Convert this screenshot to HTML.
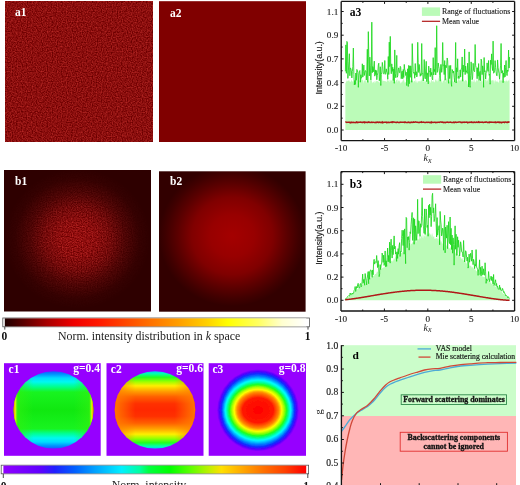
<!DOCTYPE html>
<html><head><meta charset="utf-8"><title>Figure</title>
<style>html,body{margin:0;padding:0;background:#fff;overflow:hidden;width:520px;height:485px}svg{display:block}</style>
</head><body>
<svg width="520" height="485" viewBox="0 0 520 485">
<defs>
<filter id="nA" x="0" y="0" width="100%" height="100%" color-interpolation-filters="sRGB">
  <feTurbulence type="fractalNoise" baseFrequency="0.8" numOctaves="1" seed="3" result="t"/>
  <feColorMatrix in="t" type="matrix" values="0.52 0 0 0 0.285  0.31 0 0 0 -0.097  0.28 0 0 0 -0.085  0 0 0 0 1"/>
  <feGaussianBlur stdDeviation="0.35"/>
</filter>
<filter id="nB" x="0" y="0" width="100%" height="100%" color-interpolation-filters="sRGB">
  <feTurbulence type="fractalNoise" baseFrequency="0.8" numOctaves="1" seed="11" result="t"/>
  <feColorMatrix in="t" type="matrix" values="0.6 0 0 0 0.28  0.32 0 0 0 -0.1  0.3 0 0 0 -0.09  0 0 0 0 1"/>
  <feGaussianBlur stdDeviation="0.3"/>
</filter>
<radialGradient id="gB1" cx="0.5" cy="0.485" r="0.5">
  <stop offset="0" stop-color="#fff" stop-opacity="1"/>
  <stop offset="0.25" stop-color="#fff" stop-opacity="0.92"/>
  <stop offset="0.45" stop-color="#fff" stop-opacity="0.68"/>
  <stop offset="0.65" stop-color="#fff" stop-opacity="0.32"/>
  <stop offset="0.85" stop-color="#fff" stop-opacity="0.07"/>
  <stop offset="1" stop-color="#fff" stop-opacity="0"/>
</radialGradient>
<mask id="mB1"><rect x="4" y="170" width="147" height="141.5" fill="url(#gB1)"/></mask>
<radialGradient id="gB2" cx="0.5" cy="0.46" r="0.5">
  <stop offset="0" stop-color="#a40000"/>
  <stop offset="0.3" stop-color="#980000"/>
  <stop offset="0.55" stop-color="#800000"/>
  <stop offset="0.75" stop-color="#5a0000"/>
  <stop offset="0.9" stop-color="#400000"/>
  <stop offset="1" stop-color="#320000"/>
</radialGradient>
<radialGradient id="gB1b" cx="0.5" cy="0.47" r="0.55">
  <stop offset="0" stop-color="#7a0a04"/>
  <stop offset="0.4" stop-color="#6a0604"/>
  <stop offset="0.7" stop-color="#420000"/>
  <stop offset="1" stop-color="#2c0000"/>
</radialGradient>
<linearGradient id="hot" x1="0" x2="1" y1="0" y2="0">
  <stop offset="0" stop-color="#200000"/>
  <stop offset="0.06" stop-color="#580000"/>
  <stop offset="0.14" stop-color="#a80000"/>
  <stop offset="0.23" stop-color="#f00000"/>
  <stop offset="0.31" stop-color="#ff1800"/>
  <stop offset="0.48" stop-color="#ff7000"/>
  <stop offset="0.58" stop-color="#ffa000"/>
  <stop offset="0.67" stop-color="#ffd000"/>
  <stop offset="0.74" stop-color="#ffff00"/>
  <stop offset="0.84" stop-color="#ffff60"/>
  <stop offset="0.92" stop-color="#ffffd0"/>
  <stop offset="1" stop-color="#ffffff"/>
</linearGradient>
<linearGradient id="jet" x1="0" x2="1" y1="0" y2="0">
  <stop offset="0" stop-color="#9000ff"/>
  <stop offset="0.12" stop-color="#6000ff"/>
  <stop offset="0.17" stop-color="#2020ff"/>
  <stop offset="0.236" stop-color="#0060ff"/>
  <stop offset="0.30" stop-color="#00a0ff"/>
  <stop offset="0.39" stop-color="#00f0ff"/>
  <stop offset="0.45" stop-color="#00ffa0"/>
  <stop offset="0.48" stop-color="#00ff40"/>
  <stop offset="0.55" stop-color="#00ff00"/>
  <stop offset="0.62" stop-color="#60ff00"/>
  <stop offset="0.68" stop-color="#c0f000"/>
  <stop offset="0.72" stop-color="#ffe000"/>
  <stop offset="0.80" stop-color="#ffa000"/>
  <stop offset="0.86" stop-color="#ff7000"/>
  <stop offset="0.93" stop-color="#ff4000"/>
  <stop offset="0.98" stop-color="#ff1000"/>
  <stop offset="1" stop-color="#ff0000"/>
</linearGradient>
<radialGradient id="gC3" cx="0.5" cy="0.5" r="0.5">
  <stop offset="0" stop-color="#ff0000"/>
  <stop offset="0.25" stop-color="#ff2000"/>
  <stop offset="0.36" stop-color="#ff7000"/>
  <stop offset="0.45" stop-color="#ffc000"/>
  <stop offset="0.52" stop-color="#f0ff00"/>
  <stop offset="0.6" stop-color="#40ff00"/>
  <stop offset="0.66" stop-color="#00ff80"/>
  <stop offset="0.72" stop-color="#00f0ff"/>
  <stop offset="0.8" stop-color="#0080ff"/>
  <stop offset="0.88" stop-color="#2000ff"/>
  <stop offset="0.95" stop-color="#7000ff"/>
  <stop offset="1" stop-color="#9600ff"/>
</radialGradient>
<radialGradient id="gC3c" cx="0.5" cy="0.5" r="0.5">
  <stop offset="0" stop-color="#ff0000" stop-opacity="1"/>
  <stop offset="0.5" stop-color="#ff1000" stop-opacity="0.75"/>
  <stop offset="1" stop-color="#ff3000" stop-opacity="0"/>
</radialGradient>
<linearGradient id="gC1" x1="0" x2="0" y1="0" y2="1">
  <stop offset="0" stop-color="#2050ff"/>
  <stop offset="0.04" stop-color="#0090ff"/>
  <stop offset="0.09" stop-color="#00dcff"/>
  <stop offset="0.14" stop-color="#00f8f0"/>
  <stop offset="0.2" stop-color="#00ff90"/>
  <stop offset="0.27" stop-color="#18f420"/>
  <stop offset="0.5" stop-color="#10e810"/>
  <stop offset="0.74" stop-color="#18f420"/>
  <stop offset="0.8" stop-color="#00ff90"/>
  <stop offset="0.86" stop-color="#00f8f0"/>
  <stop offset="0.91" stop-color="#00dcff"/>
  <stop offset="0.96" stop-color="#0090ff"/>
  <stop offset="1" stop-color="#2050ff"/>
</linearGradient>
<linearGradient id="gC1s" x1="0" x2="1" y1="0" y2="0">
  <stop offset="0" stop-color="#30f010" stop-opacity="0.9"/>
  <stop offset="0.12" stop-color="#30f010" stop-opacity="0.45"/>
  <stop offset="0.25" stop-color="#30f010" stop-opacity="0"/>
  <stop offset="0.75" stop-color="#30f010" stop-opacity="0"/>
  <stop offset="0.88" stop-color="#30f010" stop-opacity="0.45"/>
  <stop offset="1" stop-color="#30f010" stop-opacity="0.9"/>
</linearGradient>
<linearGradient id="gC1e" x1="0" x2="1" y1="0" y2="0">
  <stop offset="0" stop-color="#ff3000" stop-opacity="1"/>
  <stop offset="0.015" stop-color="#ffa000" stop-opacity="1"/>
  <stop offset="0.03" stop-color="#f0ff00" stop-opacity="0.8"/>
  <stop offset="0.06" stop-color="#80ff00" stop-opacity="0.0"/>
  <stop offset="0.94" stop-color="#80ff00" stop-opacity="0.0"/>
  <stop offset="0.97" stop-color="#f0ff00" stop-opacity="0.8"/>
  <stop offset="0.985" stop-color="#ffa000" stop-opacity="1"/>
  <stop offset="1" stop-color="#ff3000" stop-opacity="1"/>
</linearGradient>
<linearGradient id="gC1m" x1="0" x2="0" y1="0" y2="1">
  <stop offset="0.15" stop-color="#fff" stop-opacity="0"/>
  <stop offset="0.3" stop-color="#fff" stop-opacity="1"/>
  <stop offset="0.75" stop-color="#fff" stop-opacity="1"/>
  <stop offset="0.88" stop-color="#fff" stop-opacity="0"/>
</linearGradient>
<mask id="mC1"><rect x="13" y="371" width="81" height="78" fill="url(#gC1m)"/></mask>
<linearGradient id="gC2" x1="0" x2="0" y1="0" y2="1">
  <stop offset="0" stop-color="#00c8ff"/>
  <stop offset="0.035" stop-color="#00ffb0"/>
  <stop offset="0.08" stop-color="#20ff20"/>
  <stop offset="0.14" stop-color="#a0ff00"/>
  <stop offset="0.19" stop-color="#ffee00"/>
  <stop offset="0.26" stop-color="#ffa000"/>
  <stop offset="0.33" stop-color="#ff6000"/>
  <stop offset="0.42" stop-color="#ff3000"/>
  <stop offset="0.5" stop-color="#ff2800"/>
  <stop offset="0.58" stop-color="#ff3000"/>
  <stop offset="0.67" stop-color="#ff6000"/>
  <stop offset="0.74" stop-color="#ffa000"/>
  <stop offset="0.81" stop-color="#ffee00"/>
  <stop offset="0.86" stop-color="#a0ff00"/>
  <stop offset="0.92" stop-color="#20ff20"/>
  <stop offset="0.965" stop-color="#00ffb0"/>
  <stop offset="1" stop-color="#00c8ff"/>
</linearGradient>
<linearGradient id="gC2s" x1="0" x2="1" y1="0" y2="0">
  <stop offset="0" stop-color="#ff8000" stop-opacity="0.9"/>
  <stop offset="0.12" stop-color="#ff8000" stop-opacity="0.5"/>
  <stop offset="0.26" stop-color="#ff8000" stop-opacity="0"/>
  <stop offset="0.74" stop-color="#ff8000" stop-opacity="0"/>
  <stop offset="0.88" stop-color="#ff8000" stop-opacity="0.5"/>
  <stop offset="1" stop-color="#ff8000" stop-opacity="0.9"/>
</linearGradient>
<radialGradient id="gC2e" cx="0.5" cy="0.5" r="0.5">
  <stop offset="0.6" stop-color="#ff8000" stop-opacity="0"/>
  <stop offset="0.9" stop-color="#ff9000" stop-opacity="0.35"/>
  <stop offset="1" stop-color="#ffb000" stop-opacity="0.6"/>
</radialGradient>
</defs>
<rect width="520" height="485" fill="#fff"/>
<rect x="5" y="1" width="147.4" height="141" fill="#8a0808"/>
<rect x="5" y="1" width="147.4" height="141" filter="url(#nA)"/>
<text x="15" y="16.3" font-family="'Liberation Serif', 'Times New Roman', serif" font-size="11.5" font-weight="bold" fill="#fff" text-anchor="start">a1</text>
<rect x="159" y="1.2" width="147" height="140.8" fill="#800000"/>
<text x="170" y="16.5" font-family="'Liberation Serif', 'Times New Roman', serif" font-size="11.5" font-weight="bold" fill="#fff" text-anchor="start">a2</text>
<rect x="4" y="170" width="147" height="141.5" fill="#2e0000"/>
<g mask="url(#mB1)"><rect x="4" y="170" width="147" height="141.5" filter="url(#nB)"/></g>
<text x="15" y="185.3" font-family="'Liberation Serif', 'Times New Roman', serif" font-size="11.5" font-weight="bold" fill="#fff" text-anchor="start">b1</text>
<rect x="159" y="171.3" width="146.6" height="140.4" fill="url(#gB2)"/>
<text x="170" y="185.3" font-family="'Liberation Serif', 'Times New Roman', serif" font-size="11.5" font-weight="bold" fill="#fff" text-anchor="start">b2</text>
<rect x="2.8" y="318" width="306.6" height="8.8" fill="#fff" stroke="#555" stroke-width="0.8"/>
<rect x="4.8" y="318.4" width="301.5" height="8" fill="url(#hot)"/>
<line x1="4.8" y1="326.8" x2="4.8" y2="329.6" stroke="#333" stroke-width="0.9"/>
<line x1="308" y1="326.8" x2="308" y2="329.6" stroke="#333" stroke-width="0.9"/>
<text x="4.4" y="339.8" font-family="'Liberation Serif', 'Times New Roman', serif" font-size="11.5" font-weight="bold" fill="#111" text-anchor="middle">0</text>
<text x="307.5" y="339.8" font-family="'Liberation Serif', 'Times New Roman', serif" font-size="11.5" font-weight="bold" fill="#111" text-anchor="middle">1</text>
<text x="58" y="339.6" font-family="'Liberation Serif', 'Times New Roman', serif" font-size="11.9" fill="#222">Norm. intensity distribution in <tspan font-style="italic">k</tspan> space</text>
<rect x="4" y="363.2" width="96.7" height="92.6" fill="#9600ff"/>
<clipPath id="cc1"><ellipse cx="53.5" cy="409.9" rx="40" ry="38.7"/></clipPath>
<g clip-path="url(#cc1)"><rect x="13" y="371" width="81" height="78" fill="url(#gC1)"/><rect x="13" y="371" width="81" height="78" fill="url(#gC1s)"/><rect x="13" y="371" width="81" height="78" fill="url(#gC1e)" mask="url(#mC1)"/></g>
<text x="8.6" y="372.6" font-family="'Liberation Serif', 'Times New Roman', serif" font-size="11.5" font-weight="bold" fill="#fff" text-anchor="start">c1</text>
<text x="100" y="372.2" font-family="'Liberation Serif', 'Times New Roman', serif" font-size="11.5" font-weight="bold" fill="#fff" text-anchor="end">g=0.4</text>
<rect x="106.5" y="363.2" width="97" height="92.6" fill="#9600ff"/>
<clipPath id="cc2"><ellipse cx="155" cy="409.9" rx="40.3" ry="38.7"/></clipPath>
<g clip-path="url(#cc2)"><rect x="114" y="371" width="82" height="78" fill="url(#gC2)"/><rect x="114" y="371" width="82" height="78" fill="url(#gC2s)"/></g>
<text x="110.8" y="372.6" font-family="'Liberation Serif', 'Times New Roman', serif" font-size="11.5" font-weight="bold" fill="#fff" text-anchor="start">c2</text>
<text x="203" y="372.2" font-family="'Liberation Serif', 'Times New Roman', serif" font-size="11.5" font-weight="bold" fill="#fff" text-anchor="end">g=0.6</text>
<rect x="208.7" y="363.2" width="97.3" height="92.6" fill="#9600ff"/>
<clipPath id="cc3"><rect x="208.7" y="363.2" width="97.3" height="92.6"/></clipPath>
<filter id="bl3" x="-10%" y="-10%" width="120%" height="120%"><feGaussianBlur stdDeviation="0.7"/></filter>
<g clip-path="url(#cc3)"><g filter="url(#bl3)">
<ellipse cx="258" cy="410.3" rx="41.5" ry="41.5" fill="#9600ff"/>
<ellipse cx="258" cy="410.3" rx="40.75" ry="40.75" fill="#7f00ff"/>
<ellipse cx="258" cy="410.3" rx="40" ry="40" fill="#6700ff"/>
<ellipse cx="258" cy="410.3" rx="39.25" ry="39.25" fill="#5000ff"/>
<ellipse cx="258" cy="410.3" rx="38.5" ry="38.5" fill="#3b10ff"/>
<ellipse cx="258" cy="410.3" rx="37.75" ry="37.75" fill="#2520ff"/>
<ellipse cx="258" cy="410.3" rx="37" ry="37" fill="#1030ff"/>
<ellipse cx="258" cy="410.3" rx="36.38" ry="36.02" fill="#0b50ff"/>
<ellipse cx="258" cy="410.3" rx="35.77" ry="35.03" fill="#0570ff"/>
<ellipse cx="258" cy="410.3" rx="35.15" ry="34.05" fill="#0090ff"/>
<ellipse cx="258" cy="410.3" rx="34.54" ry="33.06" fill="#00b0ff"/>
<ellipse cx="258" cy="410.3" rx="33.92" ry="32.08" fill="#00cfff"/>
<ellipse cx="258" cy="410.3" rx="33.31" ry="31.09" fill="#00efff"/>
<ellipse cx="258" cy="410.3" rx="32.69" ry="30.25" fill="#00ffef"/>
<ellipse cx="258" cy="410.3" rx="32.08" ry="29.54" fill="#00ffcf"/>
<ellipse cx="258" cy="410.3" rx="31.46" ry="28.83" fill="#00ffb0"/>
<ellipse cx="258" cy="410.3" rx="30.85" ry="28.12" fill="#00ff90"/>
<ellipse cx="258" cy="410.3" rx="30.23" ry="27.42" fill="#0bff6b"/>
<ellipse cx="258" cy="410.3" rx="29.62" ry="26.71" fill="#15ff45"/>
<ellipse cx="258" cy="410.3" rx="29" ry="26" fill="#20ff20"/>
<ellipse cx="258" cy="410.3" rx="28.2" ry="25.23" fill="#4bff15"/>
<ellipse cx="258" cy="410.3" rx="27.4" ry="24.47" fill="#75ff0b"/>
<ellipse cx="258" cy="410.3" rx="26.6" ry="23.7" fill="#a0ff00"/>
<ellipse cx="258" cy="410.3" rx="25.8" ry="22.93" fill="#c0ff00"/>
<ellipse cx="258" cy="410.3" rx="25" ry="22.17" fill="#dfff00"/>
<ellipse cx="258" cy="410.3" rx="24.2" ry="21.4" fill="#ffff00"/>
<ellipse cx="258" cy="410.3" rx="23.56" ry="20.72" fill="#ffe600"/>
<ellipse cx="258" cy="410.3" rx="22.92" ry="20.04" fill="#ffcc00"/>
<ellipse cx="258" cy="410.3" rx="22.28" ry="19.36" fill="#ffb300"/>
<ellipse cx="258" cy="410.3" rx="21.64" ry="18.68" fill="#ff9900"/>
<ellipse cx="258" cy="410.3" rx="21" ry="18" fill="#ff8000"/>
<ellipse cx="258" cy="410.3" rx="20" ry="17" fill="#ff6b00"/>
<ellipse cx="258" cy="410.3" rx="19" ry="16" fill="#ff5600"/>
<ellipse cx="258" cy="410.3" rx="18" ry="15" fill="#ff4200"/>
<ellipse cx="258" cy="410.3" rx="17" ry="14" fill="#ff2d00"/>
<ellipse cx="258" cy="410.3" rx="16" ry="13" fill="#ff1800"/>
<ellipse cx="258" cy="410.3" rx="14.93" ry="12.13" fill="#ff1600"/>
<ellipse cx="258" cy="410.3" rx="13.87" ry="11.27" fill="#ff1500"/>
<ellipse cx="258" cy="410.3" rx="12.8" ry="10.4" fill="#ff1300"/>
<ellipse cx="258" cy="410.3" rx="11.73" ry="9.53" fill="#ff1200"/>
<ellipse cx="258" cy="410.3" rx="10.67" ry="8.67" fill="#ff1000"/>
<ellipse cx="258" cy="410.3" rx="9.6" ry="7.8" fill="#ff0e00"/>
<ellipse cx="258" cy="410.3" rx="8.53" ry="6.93" fill="#ff0d00"/>
<ellipse cx="258" cy="410.3" rx="7.47" ry="6.07" fill="#ff0b00"/>
<ellipse cx="258" cy="410.3" rx="6.4" ry="5.2" fill="#ff0a00"/>
<ellipse cx="258" cy="410.3" rx="5.33" ry="4.33" fill="#ff0800"/>
<ellipse cx="258" cy="410.3" rx="4.27" ry="3.47" fill="#ff0600"/>
<ellipse cx="258" cy="410.3" rx="3.2" ry="2.6" fill="#ff0500"/>
<ellipse cx="258" cy="410.3" rx="2.13" ry="1.73" fill="#ff0300"/>
<ellipse cx="258" cy="410.3" rx="1.07" ry="0.87" fill="#ff0200"/>
</g></g>
<text x="212.5" y="372.6" font-family="'Liberation Serif', 'Times New Roman', serif" font-size="11.5" font-weight="bold" fill="#fff" text-anchor="start">c3</text>
<text x="305.5" y="372.2" font-family="'Liberation Serif', 'Times New Roman', serif" font-size="11.5" font-weight="bold" fill="#fff" text-anchor="end">g=0.8</text>
<rect x="1.2" y="465.2" width="307.4" height="8.6" fill="#fff" stroke="#555" stroke-width="0.8"/>
<rect x="3.4" y="465.6" width="302.8" height="7.8" fill="url(#jet)"/>
<line x1="3.3" y1="473.8" x2="3.3" y2="478" stroke="#333" stroke-width="0.9"/>
<line x1="307.8" y1="473.8" x2="307.8" y2="478" stroke="#333" stroke-width="0.9"/>
<text x="3.5" y="489.5" font-family="'Liberation Serif', 'Times New Roman', serif" font-size="11.5" font-weight="bold" fill="#111" text-anchor="middle">0</text>
<text x="306" y="489.5" font-family="'Liberation Serif', 'Times New Roman', serif" font-size="11.5" font-weight="bold" fill="#111" text-anchor="middle">1</text>
<text x="149" y="489.2" font-family="'Liberation Serif', 'Times New Roman', serif" font-size="11.9" fill="#222" text-anchor="middle">Norm. intensity</text>
<polygon points="345.36,130 345.36,83.16 345.86,82.87 346.36,79.88 346.86,81.9 347.36,81.02 347.86,80.52 348.36,79.94 348.86,81.3 349.35,80.11 349.85,82.09 350.35,81.34 350.85,82.28 351.35,79.21 351.85,80.86 352.35,81.87 352.85,81.32 353.35,81.14 353.85,83.68 354.35,83.68 354.84,83.68 355.34,83.25 355.84,83.25 356.34,79.46 356.84,80.98 357.34,79.81 357.84,86.16 358.34,86.16 358.84,86.16 359.34,79.1 359.84,81.04 360.34,81.04 360.83,81.55 361.33,78.09 361.83,78.39 362.33,80.02 362.83,79.85 363.33,83.71 363.83,79.92 364.33,81.1 364.83,80.21 365.33,79.85 365.83,81.31 366.32,83.23 366.82,80.3 367.32,81.88 367.82,81.29 368.32,81.68 368.82,81.31 369.32,84.11 369.82,79.09 370.32,80.46 370.82,79.24 371.32,78.68 371.81,80.79 372.31,83.39 372.81,82.09 373.31,82.54 373.81,81.54 374.31,80.71 374.81,83.67 375.31,80.34 375.81,82.97 376.31,80.4 376.81,80.98 377.31,81.27 377.8,80.93 378.3,81.59 378.8,81.69 379.3,83.22 379.8,80.86 380.3,84.32 380.8,84.32 381.3,84.32 381.8,79.82 382.3,81.78 382.8,78.77 383.29,80.9 383.79,80.92 384.29,81.24 384.79,80.69 385.29,81.44 385.79,80.94 386.29,82.36 386.79,81.35 387.29,78.08 387.79,80.92 388.29,81.16 388.78,80.07 389.28,79.82 389.78,82.41 390.28,81.12 390.78,79.52 391.28,80.44 391.78,80.65 392.28,78.61 392.78,81.79 393.28,80.7 393.78,82.16 394.28,82.16 394.77,83.6 395.27,81.78 395.77,81.57 396.27,79.88 396.77,79.96 397.27,78.84 397.77,83.06 398.27,79.76 398.77,81.24 399.27,81.77 399.77,80.06 400.26,82.13 400.76,83.78 401.26,81.35 401.76,82.95 402.26,81.75 402.76,80.29 403.26,80.38 403.76,78.57 404.26,81.11 404.76,83 405.26,81.9 405.75,82.13 406.25,84.36 406.75,84.36 407.25,84.36 407.75,85.29 408.25,85.29 408.75,85.29 409.25,82.57 409.75,82.57 410.25,79.92 410.75,80.77 411.25,81.08 411.74,81.08 412.24,81.08 412.74,80.24 413.24,82.89 413.74,81.06 414.24,81.19 414.74,80.53 415.24,82.75 415.74,78.5 416.24,80.67 416.74,82.54 417.23,83.25 417.73,81.22 418.23,80.95 418.73,81.84 419.23,80.69 419.73,81.73 420.23,80.04 420.73,81.85 421.23,80.88 421.73,79.43 422.23,77.17 422.72,82.26 423.22,81.48 423.72,82.02 424.22,79.71 424.72,82.46 425.22,81.51 425.72,80.86 426.22,82.21 426.72,82.18 427.22,81.5 427.72,83.81 428.22,82.88 428.71,82.68 429.21,80.61 429.71,81.09 430.21,83.35 430.71,81.48 431.21,79.69 431.71,80.03 432.21,80.93 432.71,82.08 433.21,79.92 433.71,81.65 434.2,82.49 434.7,81.96 435.2,78.76 435.7,80.51 436.2,79.17 436.7,81.5 437.2,79.49 437.7,81.68 438.2,81.05 438.7,77.29 439.2,79.73 439.69,81.54 440.19,80.94 440.69,80.36 441.19,79.1 441.69,81.52 442.19,83.3 442.69,81.22 443.19,80.8 443.69,80.67 444.19,78.95 444.69,80.37 445.19,79.67 445.68,82.39 446.18,79.59 446.68,77.84 447.18,79.72 447.68,80.46 448.18,82.16 448.68,82.16 449.18,82.16 449.68,80.98 450.18,80.17 450.68,81.84 451.17,85.16 451.67,85.16 452.17,85.16 452.67,80.65 453.17,81.01 453.67,82.45 454.17,80.92 454.67,80.92 455.17,82.2 455.67,81.84 456.17,81.84 456.66,82.34 457.16,80.56 457.66,82.33 458.16,79.21 458.66,77.53 459.16,77.95 459.66,81.13 460.16,79.77 460.66,80.65 461.16,80.68 461.66,78.62 462.16,82.7 462.65,80.06 463.15,80.89 463.65,78.82 464.15,80.56 464.65,81.78 465.15,80.43 465.65,79.78 466.15,80.77 466.65,80.13 467.15,81.56 467.65,83.86 468.14,85.8 468.64,85.8 469.14,85.8 469.64,86.16 470.14,86.16 470.64,86.16 471.14,81.83 471.64,81.09 472.14,79.13 472.64,82.79 473.14,79.13 473.63,81.73 474.13,82.39 474.63,79.03 475.13,80.96 475.63,82.67 476.13,81.33 476.63,79.5 477.13,79.13 477.63,81.43 478.13,80.24 478.63,79.81 479.13,81.74 479.62,80.32 480.12,80.87 480.62,81.58 481.12,81.52 481.62,80.73 482.12,80.78 482.62,81.63 483.12,86.16 483.62,86.16 484.12,86.16 484.62,79.56 485.11,79.11 485.61,79.99 486.11,77.81 486.61,82 487.11,79.67 487.61,81.27 488.11,78.18 488.61,78.4 489.11,83.6 489.61,83.07 490.11,83.07 490.6,83.07 491.1,79.78 491.6,80.92 492.1,80.18 492.6,79.89 493.1,80.93 493.6,79.36 494.1,84.04 494.6,79.92 495.1,82.29 495.6,79.46 496.1,81.15 496.59,82.09 497.09,80.29 497.59,82.12 498.09,82.12 498.59,83.05 499.09,80.86 499.59,80.12 500.09,79.37 500.59,81.02 501.09,79.33 501.59,80.8 502.08,80.96 502.58,81.48 503.08,81.48 503.58,81.48 504.08,81.17 504.58,81.05 505.08,80.7 505.58,82.1 506.08,79.36 506.58,81.39 507.08,80.16 507.57,82 508.07,80.31 508.57,80.27 509.07,81.42 509.57,77.95 509.57,130" fill="#bbfbb8"/>
<polyline points="345.36,71.33 345.86,44.89 346.36,73.29 346.86,41.41 347.36,42.31 347.86,78.39 348.36,70.91 348.86,61.81 349.35,53.72 349.85,75.75 350.35,67.86 350.85,68.81 351.35,70.59 351.85,77.96 352.35,71.55 352.85,66.4 353.35,48.05 353.85,74.6 354.35,84.86 354.84,80.51 355.34,84.44 355.84,73.01 356.34,80.35 356.84,69.41 357.34,70.23 357.84,72.67 358.34,87.34 358.84,75.17 359.34,71.69 359.84,70.54 360.34,82.22 360.83,74.74 361.33,78.3 361.83,77.09 362.33,63.8 362.83,77.08 363.33,71.57 363.83,65.05 364.33,75.49 364.83,72.14 365.33,70.56 365.83,70.89 366.32,80.05 366.82,70.8 367.32,49.29 367.82,82.34 368.32,31.65 368.82,57.48 369.32,75.9 369.82,57.12 370.32,65.92 370.82,79.87 371.32,70.81 371.81,22.16 372.31,72.68 372.81,66.49 373.31,71.82 373.81,66.6 374.31,61.11 374.81,76.15 375.31,69.9 375.81,74.64 376.31,70.44 376.81,79.78 377.31,75.46 377.8,72.74 378.3,64.95 378.8,63.2 379.3,80.75 379.8,76.99 380.3,66.74 380.8,85.51 381.3,74.64 381.8,72.03 382.3,62.41 382.8,66.44 383.29,73.67 383.79,73.96 384.29,73.12 384.79,60.51 385.29,74.39 385.79,73.5 386.29,68.84 386.79,72.2 387.29,72.75 387.79,79.26 388.29,56.53 388.78,74.5 389.28,42.12 389.78,66.7 390.28,36.38 390.78,66.59 391.28,73.76 391.78,63.86 392.28,71.38 392.78,67.19 393.28,80.52 393.78,68.88 394.28,83.35 394.77,49.91 395.27,73.51 395.77,77.74 396.27,70.18 396.77,55.38 397.27,77.26 397.77,75.78 398.27,69.88 398.77,67.84 399.27,72.6 399.77,72.81 400.26,66.35 400.76,67.65 401.26,78.69 401.76,71.91 402.26,71.09 402.76,78.84 403.26,69.5 403.76,77.44 404.26,64.43 404.76,69.97 405.26,70.71 405.75,75.54 406.25,72.19 406.75,85.55 407.25,79.39 407.75,68.76 408.25,86.48 408.75,65.32 409.25,83.76 409.75,65.96 410.25,77.35 410.75,65.8 411.25,70.41 411.74,82.27 412.24,43.64 412.74,61.09 413.24,71.81 413.74,73.29 414.24,72.48 414.74,78.28 415.24,63.53 415.74,75.2 416.24,71.71 416.74,76.98 417.23,75.79 417.73,42.31 418.23,62.4 418.73,72.44 419.23,64.47 419.73,71.25 420.23,76.28 420.73,73.67 421.23,75.33 421.73,43.5 422.23,74.01 422.72,73.47 423.22,81.14 423.72,77.08 424.22,59.58 424.72,76.11 425.22,78.84 425.72,68.94 426.22,61.34 426.72,81.68 427.22,72.83 427.72,75.84 428.22,83.86 428.71,66.12 429.21,71.51 429.71,70.83 430.21,76.69 430.71,68.11 431.21,75.18 431.71,72.36 432.21,79.22 432.71,79.99 433.21,57.64 433.71,74.95 434.2,69.27 434.7,71.58 435.2,47.62 435.7,74.95 436.2,66.86 436.7,25.72 437.2,72.42 437.7,71.18 438.2,62.98 438.7,66.5 439.2,68.62 439.69,75.35 440.19,81.17 440.69,64.59 441.19,64.47 441.69,72.34 442.19,67.49 442.69,42.49 443.19,65.43 443.69,64.79 444.19,74.58 444.69,60.57 445.19,80.21 445.68,65.22 446.18,67.83 446.68,65.13 447.18,57.98 447.68,60.79 448.18,79.48 448.68,83.35 449.18,65.53 449.68,78.56 450.18,71.43 450.68,65.37 451.17,83.03 451.67,86.34 452.17,69.5 452.67,71.03 453.17,73.09 453.67,71.07 454.17,77.46 454.67,82.1 455.17,72.53 455.67,42.46 456.17,83.03 456.66,67.75 457.16,71.78 457.66,58.79 458.16,78.38 458.66,76.02 459.16,78.45 459.66,77.65 460.16,69.95 460.66,76.91 461.16,68.81 461.66,68.93 462.16,56.94 462.65,81.25 463.15,65.03 463.65,71.98 464.15,71.44 464.65,49.01 465.15,74.61 465.65,66.06 466.15,71.93 466.65,70.77 467.15,73.41 467.65,63.13 468.14,71.5 468.64,86.99 469.14,51.9 469.64,85.34 470.14,87.34 470.64,75.11 471.14,61.86 471.64,71.01 472.14,79.68 472.64,78.03 473.14,63.3 473.63,70.22 474.13,71 474.63,71.72 475.13,44.49 475.63,65.62 476.13,67.41 476.63,69.81 477.13,78.76 477.63,67.71 478.13,76.21 478.63,63.57 479.13,80.38 479.62,72.32 480.12,71.39 480.62,80.76 481.12,59.1 481.62,60.96 482.12,74.64 482.62,65.86 483.12,68.65 483.62,87.34 484.12,57.51 484.62,71.78 485.11,70.75 485.61,79 486.11,73.26 486.61,72.61 487.11,62.9 487.61,68.96 488.11,71.38 488.61,60.47 489.11,75.29 489.61,74.11 490.11,84.26 490.6,60.19 491.1,64.49 491.6,53.88 492.1,66.59 492.6,70.56 493.1,41.12 493.6,73.13 494.1,72.79 494.6,70.96 495.1,60.59 495.6,67.39 496.1,71.76 496.59,75.46 497.09,75.86 497.59,59.95 498.09,67.74 498.59,70.86 499.09,73.8 499.59,79.23 500.09,71.82 500.59,65.13 501.09,43.49 501.59,72.96 502.08,72.91 502.58,70.56 503.08,82.67 503.58,73.02 504.08,77.42 504.58,65.05 505.08,76.82 505.58,67.24 506.08,60.5 506.58,73.57 507.08,75.62 507.57,69.98 508.07,71.36 508.57,50 509.07,68.07 509.57,57.01" fill="none" stroke="#1ed81e" stroke-width="0.85" stroke-linejoin="miter" stroke-miterlimit="4"/>
<polyline points="345.36,122.23 345.86,121.98 346.36,122.13 346.86,122.42 347.36,122.37 347.86,122.22 348.36,122.29 348.86,122.29 349.35,122.35 349.85,122.62 350.35,122.34 350.85,122.69 351.35,122.23 351.85,122.43 352.35,122.42 352.85,122.34 353.35,122.25 353.85,122.55 354.35,122.61 354.84,122.49 355.34,122.66 355.84,122.47 356.34,122.01 356.84,122.49 357.34,122.18 357.84,122.54 358.34,122.24 358.84,122.35 359.34,122.31 359.84,122.2 360.34,121.99 360.83,122.26 361.33,122.28 361.83,122.47 362.33,122.19 362.83,122.34 363.33,122.15 363.83,122.31 364.33,121.99 364.83,122.65 365.33,122.35 365.83,122.14 366.32,122.36 366.82,122.44 367.32,122.34 367.82,122.54 368.32,122.28 368.82,121.86 369.32,122.09 369.82,122.49 370.32,122.45 370.82,122.37 371.32,122.12 371.81,122.44 372.31,122.42 372.81,122.14 373.31,122.14 373.81,122.36 374.31,122.5 374.81,122.57 375.31,122.42 375.81,122.69 376.31,122.16 376.81,122.41 377.31,122.21 377.8,121.97 378.3,122.09 378.8,122.5 379.3,122.14 379.8,122.09 380.3,122.43 380.8,122.47 381.3,122.32 381.8,122.58 382.3,122.04 382.8,122.73 383.29,122.49 383.79,122.35 384.29,122.34 384.79,122.27 385.29,122.25 385.79,122.34 386.29,122.1 386.79,122.68 387.29,122.3 387.79,122.42 388.29,122.27 388.78,122.26 389.28,122.46 389.78,122.41 390.28,122.16 390.78,122.24 391.28,122.42 391.78,121.93 392.28,121.89 392.78,122.56 393.28,122.24 393.78,121.85 394.28,122.16 394.77,122.26 395.27,122.33 395.77,122.39 396.27,122.34 396.77,122.4 397.27,122.17 397.77,122.37 398.27,122.38 398.77,122.51 399.27,122.31 399.77,122.46 400.26,122.33 400.76,122.11 401.26,122.23 401.76,122.21 402.26,122.23 402.76,122.29 403.26,122.32 403.76,122.35 404.26,122.16 404.76,122.49 405.26,122.06 405.75,122.29 406.25,122.43 406.75,122.38 407.25,122.42 407.75,122.27 408.25,122.43 408.75,122.09 409.25,122.44 409.75,122.7 410.25,122.43 410.75,122.65 411.25,122.3 411.74,122.11 412.24,122.18 412.74,122.54 413.24,122.43 413.74,121.98 414.24,122.24 414.74,122.3 415.24,122.11 415.74,121.86 416.24,122.07 416.74,122.27 417.23,122.23 417.73,122.19 418.23,122.41 418.73,122.49 419.23,122.29 419.73,122.47 420.23,122.31 420.73,122.28 421.23,121.88 421.73,122.45 422.23,122.32 422.72,122.33 423.22,122.22 423.72,122.11 424.22,122.38 424.72,122.44 425.22,122.59 425.72,122.46 426.22,122.2 426.72,122.29 427.22,122.48 427.72,122.36 428.22,122.29 428.71,122.21 429.21,122.4 429.71,122.34 430.21,122.62 430.71,122.5 431.21,122.01 431.71,122.69 432.21,122.36 432.71,122.26 433.21,122.36 433.71,122.44 434.2,122.31 434.7,122.3 435.2,122.31 435.7,122.63 436.2,122.32 436.7,122.45 437.2,122.39 437.7,122.26 438.2,122.18 438.7,122.14 439.2,122.39 439.69,122.13 440.19,122.09 440.69,122.1 441.19,122.05 441.69,122.32 442.19,122.33 442.69,122.15 443.19,122.54 443.69,122.26 444.19,122.39 444.69,122.36 445.19,122.61 445.68,122.46 446.18,122.3 446.68,122.14 447.18,122.12 447.68,122.31 448.18,122.33 448.68,122.45 449.18,122.23 449.68,122.34 450.18,122.19 450.68,121.99 451.17,122.3 451.67,122.56 452.17,122.45 452.67,122.56 453.17,122.51 453.67,122.07 454.17,122.26 454.67,122.57 455.17,122.18 455.67,122.07 456.17,122.36 456.66,122.42 457.16,122.36 457.66,122.25 458.16,122.18 458.66,122.09 459.16,122.08 459.66,122.09 460.16,122.06 460.66,122.18 461.16,122.57 461.66,122.32 462.16,122.24 462.65,122.37 463.15,122.14 463.65,122.36 464.15,122.46 464.65,122.04 465.15,122.18 465.65,122.26 466.15,122.13 466.65,122.11 467.15,122.24 467.65,122.73 468.14,122.42 468.64,122.38 469.14,122.47 469.64,122.26 470.14,122.09 470.64,122.38 471.14,122.5 471.64,121.94 472.14,122.38 472.64,122.52 473.14,122.26 473.63,122.22 474.13,122.42 474.63,122.16 475.13,122.38 475.63,122.46 476.13,122.27 476.63,122.16 477.13,122.41 477.63,122.24 478.13,122.31 478.63,121.8 479.13,122.42 479.62,122.05 480.12,122.31 480.62,122.32 481.12,122.17 481.62,122.14 482.12,122.07 482.62,122.24 483.12,122.4 483.62,122.39 484.12,122.21 484.62,122.19 485.11,122.05 485.61,122.22 486.11,122.11 486.61,122.03 487.11,122.27 487.61,122.56 488.11,122.51 488.61,122.55 489.11,122.01 489.61,122.45 490.11,122.08 490.6,122.19 491.1,121.99 491.6,122.12 492.1,122.32 492.6,122.33 493.1,122.28 493.6,122.27 494.1,122.39 494.6,122.3 495.1,122.01 495.6,122.6 496.1,122.25 496.59,122.46 497.09,122.26 497.59,122.15 498.09,122.31 498.59,122.16 499.09,122.58 499.59,122.1 500.09,122.4 500.59,122.19 501.09,122.27 501.59,122.76 502.08,122.43 502.58,122.26 503.08,122.02 503.58,122.25 504.08,122.25 504.58,122.55 505.08,122.04 505.58,121.98 506.08,122.29 506.58,122.34 507.08,122.59 507.57,122.14 508.07,121.82 508.57,122.17 509.07,122.07 509.57,122.2" fill="none" stroke="#b01818" stroke-width="1.5"/>
<line x1="341.2" y1="1.4" x2="514.6" y2="1.4" stroke="#141414" stroke-width="1.35"/>
<line x1="341.2" y1="140.6" x2="514.6" y2="140.6" stroke="#141414" stroke-width="1.35"/>
<line x1="341.2" y1="1.4" x2="341.2" y2="140.6" stroke="#141414" stroke-width="1.35"/>
<line x1="514.6" y1="1.4" x2="514.6" y2="140.6" stroke="#141414" stroke-width="1.35"/>
<path d="M341.2 130h2.5M514.6 130h-2.5" stroke="#141414" stroke-width="1"/>
<text x="338.3" y="133" font-family="'Liberation Serif', 'Times New Roman', serif" font-size="9.2" fill="#1e1e1e" stroke="#1e1e1e" stroke-width="0.15" text-anchor="end">0.0</text>
<path d="M341.2 118.15h1.5M514.6 118.15h-1.5" stroke="#141414" stroke-width="1"/>
<path d="M341.2 106.3h2.5M514.6 106.3h-2.5" stroke="#141414" stroke-width="1"/>
<text x="338.3" y="109.3" font-family="'Liberation Serif', 'Times New Roman', serif" font-size="9.2" fill="#1e1e1e" stroke="#1e1e1e" stroke-width="0.15" text-anchor="end">0.2</text>
<path d="M341.2 94.45h1.5M514.6 94.45h-1.5" stroke="#141414" stroke-width="1"/>
<path d="M341.2 82.6h2.5M514.6 82.6h-2.5" stroke="#141414" stroke-width="1"/>
<text x="338.3" y="85.6" font-family="'Liberation Serif', 'Times New Roman', serif" font-size="9.2" fill="#1e1e1e" stroke="#1e1e1e" stroke-width="0.15" text-anchor="end">0.4</text>
<path d="M341.2 70.75h1.5M514.6 70.75h-1.5" stroke="#141414" stroke-width="1"/>
<path d="M341.2 58.9h2.5M514.6 58.9h-2.5" stroke="#141414" stroke-width="1"/>
<text x="338.3" y="61.9" font-family="'Liberation Serif', 'Times New Roman', serif" font-size="9.2" fill="#1e1e1e" stroke="#1e1e1e" stroke-width="0.15" text-anchor="end">0.7</text>
<path d="M341.2 47.05h1.5M514.6 47.05h-1.5" stroke="#141414" stroke-width="1"/>
<path d="M341.2 35.2h2.5M514.6 35.2h-2.5" stroke="#141414" stroke-width="1"/>
<text x="338.3" y="38.2" font-family="'Liberation Serif', 'Times New Roman', serif" font-size="9.2" fill="#1e1e1e" stroke="#1e1e1e" stroke-width="0.15" text-anchor="end">0.9</text>
<path d="M341.2 23.35h1.5M514.6 23.35h-1.5" stroke="#141414" stroke-width="1"/>
<path d="M341.2 11.5h2.5M514.6 11.5h-2.5" stroke="#141414" stroke-width="1"/>
<text x="338.3" y="14.5" font-family="'Liberation Serif', 'Times New Roman', serif" font-size="9.2" fill="#1e1e1e" stroke="#1e1e1e" stroke-width="0.15" text-anchor="end">1.1</text>
<text x="341.2" y="151.2" font-family="'Liberation Serif', 'Times New Roman', serif" font-size="9.2" fill="#1e1e1e" stroke="#1e1e1e" stroke-width="0.15" text-anchor="middle">-10</text>
<path d="M384.55 140.6v-2.5M384.55 1.4v2.5" stroke="#141414" stroke-width="1"/>
<text x="384.55" y="151.2" font-family="'Liberation Serif', 'Times New Roman', serif" font-size="9.2" fill="#1e1e1e" stroke="#1e1e1e" stroke-width="0.15" text-anchor="middle">-5</text>
<path d="M427.9 140.6v-2.5M427.9 1.4v2.5" stroke="#141414" stroke-width="1"/>
<text x="427.9" y="151.2" font-family="'Liberation Serif', 'Times New Roman', serif" font-size="9.2" fill="#1e1e1e" stroke="#1e1e1e" stroke-width="0.15" text-anchor="middle">0</text>
<path d="M471.25 140.6v-2.5M471.25 1.4v2.5" stroke="#141414" stroke-width="1"/>
<text x="471.25" y="151.2" font-family="'Liberation Serif', 'Times New Roman', serif" font-size="9.2" fill="#1e1e1e" stroke="#1e1e1e" stroke-width="0.15" text-anchor="middle">5</text>
<text x="514.6" y="151.2" font-family="'Liberation Serif', 'Times New Roman', serif" font-size="9.2" fill="#1e1e1e" stroke="#1e1e1e" stroke-width="0.15" text-anchor="middle">10</text>
<path d="M362.88 140.6v-1.5M362.88 1.4v1.5" stroke="#141414" stroke-width="1"/>
<path d="M406.22 140.6v-1.5M406.22 1.4v1.5" stroke="#141414" stroke-width="1"/>
<path d="M449.57 140.6v-1.5M449.57 1.4v1.5" stroke="#141414" stroke-width="1"/>
<path d="M492.92 140.6v-1.5M492.92 1.4v1.5" stroke="#141414" stroke-width="1"/>
<text x="423.6" y="161" font-family="'Liberation Serif', 'Times New Roman', serif" font-size="10" font-style="italic" fill="#262626">k<tspan font-size="8" dy="1.8">x</tspan></text>
<text transform="translate(321.9 67.9) rotate(-90)" font-family="'Liberation Sans', Arial, sans-serif" font-size="8.8" fill="#1a1a1a" stroke="#1a1a1a" stroke-width="0.15" text-anchor="middle">Intensity(a.u.)</text>
<text x="349.8" y="16.2" font-family="'Liberation Serif', 'Times New Roman', serif" font-size="11.6" font-weight="bold" fill="#000">a3</text>
<rect x="421.9" y="7.4" width="18.2" height="8.5" fill="#bbfbb8"/>
<text x="441.9" y="14.2" font-family="'Liberation Serif', 'Times New Roman', serif" font-size="7.95" fill="#1a1a1a" stroke="#1a1a1a" stroke-width="0.12">Range of fluctuations</text>
<line x1="421.9" y1="21.3" x2="440.1" y2="21.3" stroke="#b01818" stroke-width="1.2"/>
<text x="441.9" y="24" font-family="'Liberation Serif', 'Times New Roman', serif" font-size="7.95" fill="#1a1a1a" stroke="#1a1a1a" stroke-width="0.12">Mean value</text>
<polygon points="345.17,300.3 345.17,299.51 345.67,299.44 346.17,298.65 346.67,298.63 347.17,297.86 347.66,297.42 348.16,297.02 348.66,296.84 349.16,296.17 349.66,295.79 350.16,295.73 350.66,294.77 351.16,294.51 351.66,294.5 352.16,294.04 352.66,293.9 353.16,293.89 353.66,292.89 354.16,292.85 354.66,291.14 355.16,291.09 355.66,291.08 356.16,291.06 356.66,289.75 357.16,289.43 357.66,288.92 358.16,288.58 358.66,287.96 359.16,287.8 359.66,287.55 360.16,287.46 360.66,286.51 361.16,286.36 361.66,286.35 362.16,285.01 362.66,284.83 363.16,284.2 363.66,284.04 364.15,284.66 364.65,284.65 365.15,284.63 365.65,281.92 366.15,284.23 366.65,284.21 367.15,284.2 367.65,280.76 368.15,282.97 368.65,282.96 369.15,282.94 369.65,278.96 370.15,278.52 370.65,278.22 371.15,277.41 371.65,277.56 372.15,276.75 372.65,276.52 373.15,275.87 373.65,275.74 374.15,275.69 374.65,274.53 375.15,274 375.65,273.95 376.15,273.85 376.65,272.6 377.15,270.93 377.65,272.31 378.15,271.46 378.65,275.6 379.15,275.59 379.65,275.57 380.14,272.78 380.64,268.6 381.14,269.35 381.64,269.32 382.14,268.49 382.64,267.78 383.14,267.92 383.64,267.11 384.14,267.71 384.64,266.41 385.14,265.56 385.64,265.55 386.14,265.53 386.64,265.17 387.14,265.16 387.64,262.85 388.14,261.86 388.64,261.93 389.14,262.56 389.64,261.81 390.14,261.76 390.64,261.74 391.14,260.6 391.64,261.09 392.14,261.92 392.64,260.17 393.14,261.05 393.64,258.63 394.14,258.27 394.64,259.51 395.14,256.75 395.64,256.15 396.14,259.84 396.63,259.83 397.13,259.82 397.63,256.88 398.13,256.86 398.63,254.05 399.13,253.66 399.63,254.87 400.13,254.85 400.63,254.84 401.13,253.37 401.63,252.88 402.13,251.73 402.63,252.86 403.13,251.99 403.63,252.44 404.13,252.42 404.63,252.41 405.13,261.89 405.63,261.88 406.13,261.86 406.63,247.87 407.13,248.22 407.63,245.93 408.13,246.75 408.63,248.26 409.13,248.25 409.63,248.23 410.13,245.66 410.63,243.19 411.13,243.64 411.63,243.64 412.13,243.38 412.63,242.34 413.12,241.28 413.62,242.23 414.12,242.21 414.62,242.2 415.12,240.9 415.62,238.93 416.12,240.32 416.62,242.81 417.12,238.22 417.62,238.98 418.12,240.44 418.62,238.68 419.12,239.31 419.62,234.61 420.12,236.59 420.62,239.28 421.12,235.82 421.62,236.9 422.12,233.12 422.62,237.26 423.12,238.78 423.62,235.02 424.12,235.39 424.62,235.27 425.12,237.7 425.62,233.59 426.12,231.52 426.62,236.93 427.12,232.1 427.62,234.76 428.12,233.93 428.62,233.93 429.11,234.3 429.61,232.43 430.11,233.48 430.61,235.38 431.11,233.61 431.61,235.71 432.11,237.9 432.61,232.4 433.11,236.29 433.61,236.98 434.11,235.89 434.61,239.03 435.11,239.05 435.61,238.14 436.11,238.52 436.61,238.02 437.11,236.88 437.61,239.54 438.11,238.54 438.61,238.77 439.11,242.68 439.61,242.69 440.11,242.71 440.61,239.7 441.11,240.93 441.61,241.93 442.11,244.15 442.61,242.59 443.11,248.21 443.61,248.23 444.11,248.24 444.61,250.88 445.11,250.89 445.6,250.91 446.1,246.32 446.6,244.5 447.1,246.77 447.6,247.17 448.1,247.04 448.6,248.53 449.1,248.55 449.6,248.62 450.1,247.01 450.6,247.47 451.1,249.97 451.6,248.19 452.1,251.47 452.6,251.48 453.1,251.5 453.6,263.42 454.1,263.44 454.6,263.45 455.1,254.29 455.6,251.96 456.1,254.25 456.6,254.54 457.1,257.81 457.6,254 458.1,254.61 458.6,255.06 459.1,255.3 459.6,255 460.1,257.18 460.6,256.62 461.1,258.7 461.6,258.73 462.09,257.78 462.59,258.85 463.09,260.9 463.59,259.72 464.09,260.64 464.59,261.64 465.09,260.92 465.59,262.09 466.09,263.54 466.59,263.54 467.09,261.45 467.59,266.82 468.09,266.83 468.59,266.85 469.09,264.99 469.59,266.09 470.09,265.76 470.59,265.81 471.09,265.71 471.59,267.26 472.09,268.08 472.59,266.84 473.09,267.19 473.59,268.16 474.09,269.3 474.59,268.98 475.09,269.62 475.59,269.53 476.09,271.4 476.59,270.88 477.09,271.49 477.59,274.38 478.08,274.4 478.58,274.41 479.08,273.32 479.58,273.68 480.08,274.77 480.58,274.87 481.08,274.89 481.58,275 482.08,274.96 482.58,276.68 483.08,277.26 483.58,276.71 484.08,277.02 484.58,276.57 485.08,277.79 485.58,282.58 486.08,282.6 486.58,282.61 487.08,280.5 487.58,279.88 488.08,280.48 488.58,280.73 489.08,281.23 489.58,281.12 490.08,282.2 490.58,282.24 491.08,283.57 491.58,284.12 492.08,283.46 492.58,283.88 493.08,284.66 493.58,285.19 494.08,285.63 494.57,286.33 495.07,286.04 495.57,286.75 496.07,287.22 496.57,287.68 497.07,287.92 497.57,288.73 498.07,288.86 498.57,289.77 499.07,289.78 499.57,289.81 500.07,290.86 500.57,291.19 501.07,291.4 501.57,291.82 502.07,292.31 502.57,293.13 503.07,293.19 503.57,293.87 504.07,294.23 504.57,294.46 505.07,295.55 505.57,295.56 506.07,295.58 506.57,296.15 507.07,297.54 507.57,297.56 508.07,297.57 508.57,297.97 509.07,298.5 509.57,299.43 509.57,300.3" fill="#bbfbb8"/>
<polyline points="345.17,299.48 345.67,298.59 346.17,298.7 346.67,297.95 347.17,297.28 347.66,296.48 348.16,296.18 348.66,295.68 349.16,295.95 349.66,295.91 350.16,293.01 350.66,294.59 351.16,294.72 351.66,294.28 352.16,293.02 352.66,294.15 353.16,293.17 353.66,293.14 354.16,290.28 354.66,289.45 355.16,286.53 355.66,291.41 356.16,289.68 356.66,286.52 357.16,287.97 357.66,284.42 358.16,283.33 358.66,286.79 359.16,288 359.66,287.93 360.16,283.91 360.66,283.47 361.16,286.86 361.66,285.54 362.16,281.37 362.66,274.09 363.16,283.38 363.66,279.56 364.15,279.16 364.65,285.25 365.15,273.52 365.65,278.04 366.15,280.5 366.65,284.87 367.15,278.68 367.65,274.88 368.15,271.62 368.65,283.68 369.15,271.56 369.65,279.28 370.15,270.97 370.65,269.88 371.15,270.24 371.65,272.82 372.15,277.35 372.65,269.96 373.15,274.76 373.65,261.34 374.15,259.31 374.65,264.11 375.15,262.24 375.65,261.71 376.15,262.55 376.65,255.51 377.15,261.81 377.65,267.62 378.15,260.65 378.65,267.38 379.15,276.61 379.65,273.84 380.14,264.62 380.64,269.54 381.14,264.93 381.64,264.17 382.14,253.07 382.64,255.79 383.14,262.39 383.64,255.12 384.14,265.44 384.64,262.55 385.14,250.95 385.64,266.76 386.14,260.82 386.64,266.42 387.14,257.55 387.64,248.04 388.14,261.8 388.64,255.41 389.14,261.82 389.64,242.11 390.14,263.11 390.64,245.58 391.14,239.15 391.64,250.72 392.14,258.08 392.64,245.41 393.14,254.65 393.64,246.49 394.14,235.92 394.64,249.02 395.14,246.23 395.64,254.06 396.14,252.37 396.63,261.37 397.13,251.73 397.63,258.45 398.13,248.62 398.63,254.21 399.13,245.83 399.63,242.67 400.13,256.49 400.63,251.42 401.13,252.01 401.63,238.31 402.13,230.17 402.63,236.41 403.13,245.55 403.63,230.34 404.13,254.18 404.63,228.9 405.13,246.28 405.63,263.67 406.13,217.42 406.63,218.17 407.13,247.77 407.63,236.96 408.13,239.82 408.63,236.58 409.13,250.15 409.63,242.61 410.13,231.85 410.63,233.57 411.13,224.17 411.63,217.46 412.13,212.43 412.63,240.39 413.12,230.82 413.62,217.8 414.12,244.25 414.62,219.14 415.12,240.51 415.62,225.81 416.12,231.12 416.62,240.34 417.12,233.07 417.62,199.33 418.12,233.63 418.62,220.72 419.12,221.28 419.62,233.36 420.12,236.36 420.62,223.75 421.12,227.31 421.62,215.17 422.12,197.72 422.62,216.3 423.12,225.19 423.62,226.33 424.12,233.34 424.62,208.91 425.12,234.46 425.62,227.74 426.12,208.96 426.62,215.16 427.12,227.42 427.62,225.2 428.12,236.24 428.62,205.35 429.11,217.75 429.61,204.09 430.11,214.98 430.61,207.33 431.11,226.66 431.61,216.65 432.11,195.91 432.61,193.3 433.11,212.9 433.61,207.86 434.11,221.6 434.61,218.45 435.11,213.59 435.61,203.75 436.11,223.33 436.61,236.99 437.11,217.6 437.61,235.18 438.11,230.75 438.61,228.26 439.11,225.64 439.61,244.78 440.11,211.44 440.61,220.14 441.11,224.88 441.61,235.93 442.11,233.77 442.61,228.12 443.11,229.92 443.61,250.21 444.11,227.81 444.61,215.25 445.11,252.83 445.6,227.03 446.1,233.28 446.6,238.14 447.1,225.25 447.6,248.65 448.1,237.11 448.6,221.66 449.1,241.22 449.6,243.61 450.1,217.01 450.6,244.73 451.1,228.32 451.6,249.52 452.1,235.1 452.6,253.2 453.1,237.86 453.6,244.67 454.1,265.12 454.6,244.83 455.1,225.85 455.6,249.24 456.1,234.26 456.6,255.33 457.1,255.3 457.6,236.77 458.1,247.3 458.6,240.19 459.1,246.75 459.6,256.06 460.1,250.58 460.6,241.79 461.1,244.41 461.6,251.56 462.09,251.71 462.59,253.31 463.09,256.96 463.59,240.5 464.09,253.94 464.59,261.94 465.09,258.08 465.59,250.76 466.09,251.84 466.59,257.29 467.09,261.09 467.59,257.25 468.09,268.1 468.59,266.23 469.09,254.1 469.59,262.17 470.09,257.65 470.59,253.31 471.09,257.12 471.59,261.18 472.09,249.99 472.59,258.62 473.09,264.68 473.59,259.35 474.09,261.59 474.59,268.67 475.09,264.34 475.59,266.04 476.09,249.6 476.59,267.03 477.09,268.04 477.59,269.25 478.08,275.38 478.58,269.78 479.08,268.81 479.58,259.85 480.08,274.62 480.58,267.34 481.08,275.78 481.58,272.01 482.08,266.16 482.58,274.86 483.08,274.58 483.58,268.81 484.08,275 484.58,275.13 485.08,262.77 485.58,271.16 486.08,283.34 486.58,278.86 487.08,279.91 487.58,280.59 488.08,280.24 488.58,271.55 489.08,277.46 489.58,281.63 490.08,279.02 490.58,278.7 491.08,276.13 491.58,280.49 492.08,276.9 492.58,280.98 493.08,283.97 493.58,274.49 494.08,285.54 494.57,283.16 495.07,282.31 495.57,279.77 496.07,285.72 496.57,283.44 497.07,287.25 497.57,286.37 498.07,289.14 498.57,289.19 499.07,289.09 499.57,285.16 500.07,289.82 500.57,287.64 501.07,290.97 501.57,290.88 502.07,290.31 502.57,288.41 503.07,290.2 503.57,292.39 504.07,291.65 504.57,293.34 505.07,293.56 505.57,295.73 506.07,295.16 506.57,295.6 507.07,296.19 507.57,297.67 508.07,296.63 508.57,297.67 509.07,297.61 509.57,298.56" fill="none" stroke="#1ed81e" stroke-width="0.85" stroke-linejoin="miter" stroke-miterlimit="4"/>
<polyline points="345.17,299.78 345.67,299.72 346.17,299.67 346.67,299.62 347.17,299.56 347.66,299.5 348.16,299.44 348.66,299.38 349.16,299.32 349.66,299.26 350.16,299.19 350.66,299.13 351.16,299.06 351.66,299 352.16,298.93 352.66,298.86 353.16,298.79 353.66,298.72 354.16,298.65 354.66,298.57 355.16,298.5 355.66,298.43 356.16,298.35 356.66,298.28 357.16,298.2 357.66,298.12 358.16,298.04 358.66,297.97 359.16,297.89 359.66,297.81 360.16,297.73 360.66,297.65 361.16,297.57 361.66,297.49 362.16,297.4 362.66,297.32 363.16,297.24 363.66,297.16 364.15,297.07 364.65,296.99 365.15,296.9 365.65,296.82 366.15,296.74 366.65,296.65 367.15,296.57 367.65,296.48 368.15,296.39 368.65,296.31 369.15,296.22 369.65,296.14 370.15,296.05 370.65,295.97 371.15,295.88 371.65,295.8 372.15,295.71 372.65,295.62 373.15,295.54 373.65,295.45 374.15,295.37 374.65,295.28 375.15,295.2 375.65,295.11 376.15,295.03 376.65,294.94 377.15,294.86 377.65,294.77 378.15,294.69 378.65,294.61 379.15,294.52 379.65,294.44 380.14,294.36 380.64,294.27 381.14,294.19 381.64,294.11 382.14,294.03 382.64,293.95 383.14,293.87 383.64,293.79 384.14,293.71 384.64,293.63 385.14,293.55 385.64,293.48 386.14,293.4 386.64,293.32 387.14,293.25 387.64,293.17 388.14,293.1 388.64,293.02 389.14,292.95 389.64,292.88 390.14,292.8 390.64,292.73 391.14,292.66 391.64,292.59 392.14,292.52 392.64,292.45 393.14,292.39 393.64,292.32 394.14,292.25 394.64,292.19 395.14,292.13 395.64,292.06 396.14,292 396.63,291.94 397.13,291.88 397.63,291.82 398.13,291.76 398.63,291.7 399.13,291.64 399.63,291.59 400.13,291.53 400.63,291.48 401.13,291.43 401.63,291.37 402.13,291.32 402.63,291.27 403.13,291.22 403.63,291.18 404.13,291.13 404.63,291.08 405.13,291.04 405.63,290.99 406.13,290.95 406.63,290.91 407.13,290.87 407.63,290.83 408.13,290.79 408.63,290.76 409.13,290.72 409.63,290.69 410.13,290.65 410.63,290.62 411.13,290.59 411.63,290.56 412.13,290.53 412.63,290.5 413.12,290.48 413.62,290.45 414.12,290.43 414.62,290.4 415.12,290.38 415.62,290.36 416.12,290.34 416.62,290.33 417.12,290.31 417.62,290.29 418.12,290.28 418.62,290.27 419.12,290.26 419.62,290.25 420.12,290.24 420.62,290.23 421.12,290.22 421.62,290.22 422.12,290.21 422.62,290.21 423.12,290.21 423.62,290.21 424.12,290.21 424.62,290.21 425.12,290.21 425.62,290.22 426.12,290.23 426.62,290.23 427.12,290.24 427.62,290.25 428.12,290.26 428.62,290.28 429.11,290.29 429.61,290.3 430.11,290.32 430.61,290.34 431.11,290.36 431.61,290.38 432.11,290.4 432.61,290.42 433.11,290.44 433.61,290.47 434.11,290.49 434.61,290.52 435.11,290.55 435.61,290.58 436.11,290.61 436.61,290.64 437.11,290.67 437.61,290.71 438.11,290.74 438.61,290.78 439.11,290.82 439.61,290.86 440.11,290.9 440.61,290.94 441.11,290.98 441.61,291.02 442.11,291.07 442.61,291.11 443.11,291.16 443.61,291.21 444.11,291.25 444.61,291.3 445.11,291.35 445.6,291.41 446.1,291.46 446.6,291.51 447.1,291.57 447.6,291.62 448.1,291.68 448.6,291.74 449.1,291.8 449.6,291.86 450.1,291.92 450.6,291.98 451.1,292.04 451.6,292.1 452.1,292.17 452.6,292.23 453.1,292.3 453.6,292.36 454.1,292.43 454.6,292.5 455.1,292.57 455.6,292.64 456.1,292.71 456.6,292.78 457.1,292.85 457.6,292.92 458.1,293 458.6,293.07 459.1,293.14 459.6,293.22 460.1,293.29 460.6,293.37 461.1,293.45 461.6,293.52 462.09,293.6 462.59,293.68 463.09,293.76 463.59,293.84 464.09,293.92 464.59,294 465.09,294.08 465.59,294.16 466.09,294.24 466.59,294.33 467.09,294.41 467.59,294.49 468.09,294.58 468.59,294.66 469.09,294.74 469.59,294.83 470.09,294.91 470.59,295 471.09,295.08 471.59,295.17 472.09,295.25 472.59,295.34 473.09,295.42 473.59,295.51 474.09,295.59 474.59,295.68 475.09,295.76 475.59,295.85 476.09,295.94 476.59,296.02 477.09,296.11 477.59,296.19 478.08,296.28 478.58,296.36 479.08,296.45 479.58,296.53 480.08,296.62 480.58,296.7 481.08,296.79 481.58,296.87 482.08,296.96 482.58,297.04 483.08,297.12 483.58,297.21 484.08,297.29 484.58,297.37 485.08,297.46 485.58,297.54 486.08,297.62 486.58,297.7 487.08,297.78 487.58,297.86 488.08,297.94 488.58,298.02 489.08,298.09 489.58,298.17 490.08,298.25 490.58,298.32 491.08,298.4 491.58,298.47 492.08,298.55 492.58,298.62 493.08,298.69 493.58,298.76 494.08,298.83 494.57,298.9 495.07,298.97 495.57,299.04 496.07,299.11 496.57,299.17 497.07,299.24 497.57,299.3 498.07,299.36 498.57,299.42 499.07,299.48 499.57,299.54 500.07,299.6 500.57,299.65 501.07,299.7 501.57,299.76 502.07,299.81 502.57,299.86 503.07,299.9 503.57,299.95 504.07,299.99 504.57,300.04 505.07,300.08 505.57,300.11 506.07,300.15 506.57,300.18 507.07,300.21 507.57,300.24 508.07,300.26 508.57,300.28 509.07,300.3 509.57,300.3" fill="none" stroke="#b01818" stroke-width="1.5"/>
<line x1="341" y1="171.6" x2="514.6" y2="171.6" stroke="#141414" stroke-width="1.35"/>
<line x1="341" y1="311" x2="514.6" y2="311" stroke="#141414" stroke-width="1.35"/>
<line x1="341" y1="171.6" x2="341" y2="311" stroke="#141414" stroke-width="1.35"/>
<line x1="514.6" y1="171.6" x2="514.6" y2="311" stroke="#141414" stroke-width="1.35"/>
<path d="M341 300.3h2.5M514.6 300.3h-2.5" stroke="#141414" stroke-width="1"/>
<text x="338.3" y="303.3" font-family="'Liberation Serif', 'Times New Roman', serif" font-size="9.2" fill="#1e1e1e" stroke="#1e1e1e" stroke-width="0.15" text-anchor="end">0.0</text>
<path d="M341 288.7h1.5M514.6 288.7h-1.5" stroke="#141414" stroke-width="1"/>
<path d="M341 277.1h2.5M514.6 277.1h-2.5" stroke="#141414" stroke-width="1"/>
<text x="338.3" y="280.1" font-family="'Liberation Serif', 'Times New Roman', serif" font-size="9.2" fill="#1e1e1e" stroke="#1e1e1e" stroke-width="0.15" text-anchor="end">0.2</text>
<path d="M341 265.5h1.5M514.6 265.5h-1.5" stroke="#141414" stroke-width="1"/>
<path d="M341 253.9h2.5M514.6 253.9h-2.5" stroke="#141414" stroke-width="1"/>
<text x="338.3" y="256.9" font-family="'Liberation Serif', 'Times New Roman', serif" font-size="9.2" fill="#1e1e1e" stroke="#1e1e1e" stroke-width="0.15" text-anchor="end">0.4</text>
<path d="M341 242.3h1.5M514.6 242.3h-1.5" stroke="#141414" stroke-width="1"/>
<path d="M341 230.7h2.5M514.6 230.7h-2.5" stroke="#141414" stroke-width="1"/>
<text x="338.3" y="233.7" font-family="'Liberation Serif', 'Times New Roman', serif" font-size="9.2" fill="#1e1e1e" stroke="#1e1e1e" stroke-width="0.15" text-anchor="end">0.6</text>
<path d="M341 219.1h1.5M514.6 219.1h-1.5" stroke="#141414" stroke-width="1"/>
<path d="M341 207.5h2.5M514.6 207.5h-2.5" stroke="#141414" stroke-width="1"/>
<text x="338.3" y="210.5" font-family="'Liberation Serif', 'Times New Roman', serif" font-size="9.2" fill="#1e1e1e" stroke="#1e1e1e" stroke-width="0.15" text-anchor="end">0.9</text>
<path d="M341 195.9h1.5M514.6 195.9h-1.5" stroke="#141414" stroke-width="1"/>
<path d="M341 184.3h2.5M514.6 184.3h-2.5" stroke="#141414" stroke-width="1"/>
<text x="338.3" y="187.3" font-family="'Liberation Serif', 'Times New Roman', serif" font-size="9.2" fill="#1e1e1e" stroke="#1e1e1e" stroke-width="0.15" text-anchor="end">1.1</text>
<path d="M341 172.7h1.5M514.6 172.7h-1.5" stroke="#141414" stroke-width="1"/>
<text x="341" y="321.6" font-family="'Liberation Serif', 'Times New Roman', serif" font-size="9.2" fill="#1e1e1e" stroke="#1e1e1e" stroke-width="0.15" text-anchor="middle">-10</text>
<path d="M384.4 311v-2.5M384.4 171.6v2.5" stroke="#141414" stroke-width="1"/>
<text x="384.4" y="321.6" font-family="'Liberation Serif', 'Times New Roman', serif" font-size="9.2" fill="#1e1e1e" stroke="#1e1e1e" stroke-width="0.15" text-anchor="middle">-5</text>
<path d="M427.8 311v-2.5M427.8 171.6v2.5" stroke="#141414" stroke-width="1"/>
<text x="427.8" y="321.6" font-family="'Liberation Serif', 'Times New Roman', serif" font-size="9.2" fill="#1e1e1e" stroke="#1e1e1e" stroke-width="0.15" text-anchor="middle">0</text>
<path d="M471.2 311v-2.5M471.2 171.6v2.5" stroke="#141414" stroke-width="1"/>
<text x="471.2" y="321.6" font-family="'Liberation Serif', 'Times New Roman', serif" font-size="9.2" fill="#1e1e1e" stroke="#1e1e1e" stroke-width="0.15" text-anchor="middle">5</text>
<text x="514.6" y="321.6" font-family="'Liberation Serif', 'Times New Roman', serif" font-size="9.2" fill="#1e1e1e" stroke="#1e1e1e" stroke-width="0.15" text-anchor="middle">10</text>
<path d="M362.7 311v-1.5M362.7 171.6v1.5" stroke="#141414" stroke-width="1"/>
<path d="M406.1 311v-1.5M406.1 171.6v1.5" stroke="#141414" stroke-width="1"/>
<path d="M449.5 311v-1.5M449.5 171.6v1.5" stroke="#141414" stroke-width="1"/>
<path d="M492.9 311v-1.5M492.9 171.6v1.5" stroke="#141414" stroke-width="1"/>
<text x="423.6" y="330.5" font-family="'Liberation Serif', 'Times New Roman', serif" font-size="10" font-style="italic" fill="#262626">k<tspan font-size="8" dy="1.8">x</tspan></text>
<text transform="translate(321.9 238.2) rotate(-90)" font-family="'Liberation Sans', Arial, sans-serif" font-size="8.8" fill="#1a1a1a" stroke="#1a1a1a" stroke-width="0.15" text-anchor="middle">Intensity(a.u.)</text>
<text x="349.8" y="187.6" font-family="'Liberation Serif', 'Times New Roman', serif" font-size="11.6" font-weight="bold" fill="#000">b3</text>
<rect x="423" y="175.2" width="18.2" height="8.5" fill="#bbfbb8"/>
<text x="443" y="182" font-family="'Liberation Serif', 'Times New Roman', serif" font-size="7.95" fill="#1a1a1a" stroke="#1a1a1a" stroke-width="0.12">Range of fluctuations</text>
<line x1="423" y1="189.1" x2="441.2" y2="189.1" stroke="#b01818" stroke-width="1.2"/>
<text x="443" y="191.8" font-family="'Liberation Serif', 'Times New Roman', serif" font-size="7.95" fill="#1a1a1a" stroke="#1a1a1a" stroke-width="0.12">Mean value</text>
<rect x="341.4" y="345.2" width="174.60000000000002" height="70.80000000000001" fill="#cbfdca"/>
<rect x="341.4" y="416" width="174.60000000000002" height="69" fill="#ffb6b6"/>
<path d="M341.6 431.4C342.17 430.58 343.6 428.48 345 426.5C346.4 424.52 348.25 421.55 350 419.5C351.75 417.45 353.67 415.7 355.5 414.2C357.33 412.7 359.12 411.7 361 410.5C362.88 409.3 365.13 408.17 366.8 407C368.47 405.83 369.63 404.75 371 403.5C372.37 402.25 373.5 401.22 375 399.5C376.5 397.78 378.27 395.18 380 393.2C381.73 391.22 383.73 389.08 385.4 387.6C387.07 386.12 388.4 385.23 390 384.3C391.6 383.37 393.33 382.68 395 382C396.67 381.32 397.83 380.95 400 380.2C402.17 379.45 405.33 378.4 408 377.5C410.67 376.6 413.25 375.67 416 374.8C418.75 373.93 421.83 372.97 424.5 372.3C427.17 371.63 429.42 371.18 432 370.8C434.58 370.42 437 370.5 440 370C443 369.5 446.53 368.47 450 367.8C453.47 367.13 457.47 366.42 460.8 366C464.13 365.58 465.52 365.6 470 365.3C474.48 365 482.7 364.48 487.7 364.2C492.7 363.92 495.23 363.8 500 363.6C504.77 363.4 513.58 363.1 516.3 363" fill="none" stroke="#4eaad6" stroke-width="1.3"/>
<path d="M341.6 480C341.83 477.67 342.43 470.67 343 466C343.57 461.33 344.3 456.33 345 452C345.7 447.67 346.37 444 347.2 440C348.03 436 349.13 431.27 350 428C350.87 424.73 351.32 422.87 352.4 420.4C353.48 417.93 355.07 415.02 356.5 413.2C357.93 411.38 359.28 410.7 361 409.5C362.72 408.3 365.13 407.25 366.8 406C368.47 404.75 369.63 403.38 371 402C372.37 400.62 373.5 399.5 375 397.7C376.5 395.9 378.27 393.28 380 391.2C381.73 389.12 383.73 386.77 385.4 385.2C387.07 383.63 388.4 382.73 390 381.8C391.6 380.87 393.33 380.27 395 379.6C396.67 378.93 397.83 378.57 400 377.8C402.17 377.03 405.33 375.88 408 375C410.67 374.12 413.25 373.33 416 372.5C418.75 371.67 421.83 370.62 424.5 370C427.17 369.38 429.42 369.08 432 368.8C434.58 368.52 437 368.73 440 368.3C443 367.87 446.53 366.82 450 366.2C453.47 365.58 457.47 364.98 460.8 364.6C464.13 364.22 465.52 364.22 470 363.9C474.48 363.58 482.7 362.93 487.7 362.7C492.7 362.47 495.23 362.57 500 362.5C504.77 362.43 513.58 362.33 516.3 362.3" fill="none" stroke="#d04838" stroke-width="1.3"/>
<line x1="341.4" y1="345.2" x2="341.4" y2="486" stroke="#141414" stroke-width="1.35"/>
<path d="M341.4 345.7h2.5" stroke="#141414" stroke-width="1"/>
<text x="338.2" y="348.6" font-family="'Liberation Serif', 'Times New Roman', serif" font-size="9.6" fill="#1a1a1a" stroke="#1a1a1a" stroke-width="0.15" text-anchor="end">1.0</text>
<path d="M341.4 357.35h1.5" stroke="#141414" stroke-width="1"/>
<path d="M341.4 369h2.5" stroke="#141414" stroke-width="1"/>
<text x="338.2" y="371.9" font-family="'Liberation Serif', 'Times New Roman', serif" font-size="9.6" fill="#1a1a1a" stroke="#1a1a1a" stroke-width="0.15" text-anchor="end">0.9</text>
<path d="M341.4 380.7h1.5" stroke="#141414" stroke-width="1"/>
<path d="M341.4 392.4h2.5" stroke="#141414" stroke-width="1"/>
<text x="338.2" y="395.3" font-family="'Liberation Serif', 'Times New Roman', serif" font-size="9.6" fill="#1a1a1a" stroke="#1a1a1a" stroke-width="0.15" text-anchor="end">0.8</text>
<path d="M341.4 404.1h1.5" stroke="#141414" stroke-width="1"/>
<path d="M341.4 415.8h2.5" stroke="#141414" stroke-width="1"/>
<text x="338.2" y="418.7" font-family="'Liberation Serif', 'Times New Roman', serif" font-size="9.6" fill="#1a1a1a" stroke="#1a1a1a" stroke-width="0.15" text-anchor="end">0.7</text>
<path d="M341.4 427.65h1.5" stroke="#141414" stroke-width="1"/>
<path d="M341.4 439.5h2.5" stroke="#141414" stroke-width="1"/>
<text x="338.2" y="442.4" font-family="'Liberation Serif', 'Times New Roman', serif" font-size="9.6" fill="#1a1a1a" stroke="#1a1a1a" stroke-width="0.15" text-anchor="end">0.6</text>
<path d="M341.4 451.25h1.5" stroke="#141414" stroke-width="1"/>
<path d="M341.4 463h2.5" stroke="#141414" stroke-width="1"/>
<text x="338.2" y="465.9" font-family="'Liberation Serif', 'Times New Roman', serif" font-size="9.6" fill="#1a1a1a" stroke="#1a1a1a" stroke-width="0.15" text-anchor="end">0.5</text>
<path d="M341.4 474.7h1.5" stroke="#141414" stroke-width="1"/>
<path d="M341.4 486.4h2.5" stroke="#141414" stroke-width="1"/>
<text x="338.2" y="489.3" font-family="'Liberation Serif', 'Times New Roman', serif" font-size="9.6" fill="#1a1a1a" stroke="#1a1a1a" stroke-width="0.15" text-anchor="end">0.4</text>
<path d="M380.5 486v-2.8" stroke="#141414" stroke-width="1"/>
<path d="M419.2 486v-2.8" stroke="#141414" stroke-width="1"/>
<path d="M458 486v-2.8" stroke="#141414" stroke-width="1"/>
<path d="M496.7 486v-2.8" stroke="#141414" stroke-width="1"/>
<text transform="translate(321.8 411.8) rotate(-90)" font-family="'Liberation Serif', 'Times New Roman', serif" font-size="10.5" fill="#1a1a1a" text-anchor="middle">g</text>
<text x="352.6" y="358.6" font-family="'Liberation Serif', 'Times New Roman', serif" font-size="11.4" font-weight="bold" fill="#000">d</text>
<line x1="417.5" y1="348.9" x2="431" y2="348.9" stroke="#4eaad6" stroke-width="1.3"/>
<text x="435.8" y="351.1" font-family="'Liberation Serif', 'Times New Roman', serif" font-size="7.8" fill="#111" stroke="#111" stroke-width="0.15">VAS model</text>
<line x1="418.5" y1="357.1" x2="430.5" y2="357.1" stroke="#d04838" stroke-width="1.3"/>
<text x="435.8" y="359.4" font-family="'Liberation Serif', 'Times New Roman', serif" font-size="7.65" fill="#111" stroke="#111" stroke-width="0.15">Mie scattering calculation</text>
<rect x="401.2" y="394.8" width="105.3" height="9.7" fill="#cbfdca" stroke="#2f8a4a" stroke-width="0.9"/>
<text x="454" y="402" font-family="'Liberation Serif', 'Times New Roman', serif" font-size="7.9" font-weight="bold" fill="#111" stroke="#111" stroke-width="0.3" text-anchor="middle">Forward scattering dominates</text>
<rect x="400.2" y="432.3" width="107.2" height="18.9" fill="#ffb6b6" stroke="#e03030" stroke-width="0.9"/>
<text x="453.8" y="440.4" font-family="'Liberation Serif', 'Times New Roman', serif" font-size="7.9" font-weight="bold" fill="#111" stroke="#111" stroke-width="0.3" text-anchor="middle">Backscattering components</text>
<text x="453.8" y="449" font-family="'Liberation Serif', 'Times New Roman', serif" font-size="7.9" font-weight="bold" fill="#111" stroke="#111" stroke-width="0.3" text-anchor="middle">cannot be ignored</text>
</svg>
</body></html>
